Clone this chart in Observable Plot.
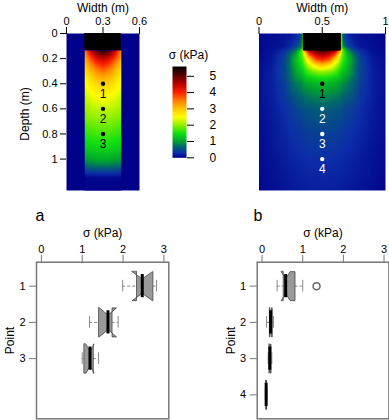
<!DOCTYPE html>
<html><head><meta charset="utf-8">
<script src="https://cdn.jsdelivr.net/npm/d3@7"></script>
<script src="https://cdn.jsdelivr.net/npm/@observablehq/plot@0.6"></script>
<style>
body{margin:0;background:#fff;}
#fig{position:relative;width:389px;height:420px;overflow:hidden;font-family:"Liberation Sans",Arial,sans-serif;}
</style></head><body><div id="fig"></div>
<script>
// ---------- colour scale (σ, kPa) ----------
const sigmaStops  = [0, 0.3, 0.7, 1.0, 1.5, 2.0, 2.5, 3.0, 3.5, 4.0, 4.6, 5.1, 5.6];
const sigmaColors = ["#000088", "#0c2ea8", "#006a68", "#00a030", "#10e010", "#90f000", "#ffff00", "#ffc400", "#ff8000", "#ff2000", "#b00000", "#500000", "#000000"];
const legendTicks = [0, 1, 2, 3, 4, 5];

// ---------- panel 1: narrow column (width 0–0.6 m) ----------
const p1Depth  = [0.135, 0.16, 0.2, 0.25, 0.3, 0.35, 0.4, 0.5, 0.6, 0.7, 0.8, 0.9, 1.0, 1.05, 1.1, 1.15, 1.25];
const p1Edge   = [3.4, 3.3, 3.1, 2.9, 2.7, 2.55, 2.45, 2.25, 2.05, 1.85, 1.6, 1.35, 1.0, 0.7, 0.35, 0.05, 0];
const p1Mid    = [4.6, 4.2, 3.8, 3.4, 3.1, 2.85, 2.7, 2.4, 2.15, 1.9, 1.65, 1.4, 1.05, 0.75, 0.4, 0.05, 0];
const p1Inner  = [5.2, 4.8, 4.3, 3.8, 3.4, 3.1, 2.85, 2.5, 2.2, 1.95, 1.7, 1.45, 1.1, 0.8, 0.4, 0.05, 0];
const p1Center = [5.4, 5.0, 4.5, 4.0, 3.6, 3.2, 2.9, 2.55, 2.2, 1.95, 1.7, 1.45, 1.1, 0.8, 0.4, 0.05, 0];
const p1Column = [0.15, 0.45];
const p1Footing = [0.15, 0.45, 0.135];
const p1PointDepth = [0.4, 0.6, 0.8];
const p1PointLabel = ["1", "2", "3"];
const p1PointX = 0.3;

// ---------- panel 2: wide soil (width 0–1 m) ----------
const p2X = [0, 0.1, 0.2, 0.25, 0.3, 0.34, 0.36, 0.4, 0.45, 0.5];
const p2Depth = [0, 0.1, 0.14, 0.17, 0.2, 0.25, 0.3, 0.35, 0.4, 0.5, 0.6, 0.8, 1.0, 1.25];
const p2Rows = [
  [0.05, 0.08, 0.12, 0.15, 0.25, 0.45, 5.6, 5.6, 5.6, 5.6],
  [0.05, 0.1, 0.15, 0.25, 0.45, 0.85, 5.6, 5.6, 5.6, 5.6],
  [0.05, 0.12, 0.3, 0.55, 0.95, 1.8, 3.2, 4.6, 5.0, 5.2],
  [0.06, 0.14, 0.38, 0.72, 1.2, 1.8, 2.4, 3.8, 4.4, 4.6],
  [0.07, 0.16, 0.42, 0.8, 1.3, 1.7, 2.1, 3.0, 3.9, 4.2],
  [0.08, 0.18, 0.45, 0.8, 1.2, 1.5, 1.8, 2.3, 2.8, 3.1],
  [0.09, 0.2, 0.45, 0.75, 1.1, 1.3, 1.5, 1.8, 2.0, 2.1],
  [0.1, 0.2, 0.45, 0.7, 0.95, 1.1, 1.25, 1.4, 1.5, 1.55],
  [0.1, 0.2, 0.4, 0.6, 0.8, 0.9, 1.0, 1.1, 1.15, 1.2],
  [0.1, 0.2, 0.35, 0.5, 0.6, 0.68, 0.75, 0.8, 0.85, 0.85],
  [0.1, 0.18, 0.3, 0.38, 0.45, 0.5, 0.55, 0.58, 0.6, 0.62],
  [0.08, 0.15, 0.24, 0.29, 0.33, 0.36, 0.38, 0.4, 0.41, 0.42],
  [0.07, 0.12, 0.18, 0.22, 0.25, 0.27, 0.28, 0.29, 0.3, 0.3],
  [0.05, 0.09, 0.13, 0.15, 0.17, 0.18, 0.19, 0.2, 0.2, 0.2]
];
const p2Footing = [0.35, 0.65, 0.14];
const p2PointDepth = [0.4, 0.6, 0.8, 1.0];
const p2PointLabel = ["1", "2", "3", "4"];
const p2PointColor = ["black", "white", "white", "white"];
const p2PointX = 0.5;

// ---------- box plots ----------
const aPoints  = [1, 2, 3];
const aLow     = [1.99, 1.18, 1.00];
const aQ1      = [2.33, 1.40, 1.04];
const aMedian  = [2.47, 1.63, 1.19];
const aQ3      = [2.73, 1.73, 1.27];
const aHigh    = [2.82, 1.88, 1.40];
const aNotchLo = [2.22, 1.42, 1.09];
const aNotchHi = [2.72, 1.84, 1.29];

const bPoints  = [1, 2, 3, 4];
const bLow     = [0.37, 0.11, 0.15, 0.08];
const bQ1      = [0.52, 0.18, 0.17, 0.09];
const bMedian  = [0.58, 0.21, 0.19, 0.10];
const bQ3      = [0.81, 0.25, 0.22, 0.11];
const bHigh    = [1.00, 0.28, 0.24, 0.12];
const bNotchLo = [0.47, 0.19, 0.175, 0.095];
const bNotchHi = [0.69, 0.23, 0.205, 0.105];
const bOutPoint = [1];
const bOutValue = [1.34];

const sigmaTicks = [0, 1, 2, 3];

// ================= build =================
const fig = document.getElementById("fig");
const FONT = '"Liberation Sans", Arial, sans-serif';
const baseStyle = {fontFamily: FONT, fontSize: "11px", background: "transparent", overflow: "visible", color: "black"};
const colorOpts = {type: "linear", domain: sigmaStops, range: sigmaColors, clamp: true};
function place(node, left, top) {
  node.style.position = "absolute";
  node.style.left = left + "px";
  node.style.top = top + "px";
  fig.appendChild(node);
}
const fmt = d => String(d);
const label = (t, o) => Plot.text([t], {text: d => d, lineAnchor: "middle", textAnchor: "middle", fontSize: 12, ...o});

// panel 1 samples
const p1Cols = [
  {x: p1Column[0], v: p1Edge}, {x: 0.2, v: p1Mid}, {x: 0.25, v: p1Inner}, {x: 0.3, v: p1Center},
  {x: 0.35, v: p1Inner}, {x: 0.4, v: p1Mid}, {x: p1Column[1], v: p1Edge}
];
const p1Samples = [];
p1Depth.forEach((d, i) => p1Cols.forEach(c => p1Samples.push({x: c.x, y: d, v: c.v[i]})));
const p1Pts = p1PointDepth.map((d, i) => ({x: p1PointX, y: d, label: p1PointLabel[i]}));

const p1 = Plot.plot({
  width: 150, height: 195, marginLeft: 66, marginRight: 11, marginTop: 33, marginBottom: 5,
  style: baseStyle,
  x: {domain: [0, 0.6]},
  y: {domain: [0, 1.25], reverse: true},
  color: colorOpts,
  marks: [
    Plot.frame({fill: sigmaColors[0], stroke: null}),
    Plot.raster(p1Samples, {x: "x", y: "y", fill: "v", interpolate: "barycentric",
      x1: p1Column[0], x2: p1Column[1], y1: p1Depth[0], y2: p1Depth[p1Depth.length - 1]}),
    Plot.rect([p1Footing], {x1: d => d[0], x2: d => d[1], y1: 0, y2: d => d[2], fill: "black"}),
    Plot.dot(p1Pts, {x: "x", y: "y", r: 2.2, fill: "black", stroke: null}),
    Plot.text(p1Pts, {x: "x", y: "y", text: "label", dy: 10, fill: "black", fontSize: 12}),
    Plot.axisX({anchor: "top", ticks: [0, 0.3, 0.6], tickFormat: fmt, tickSize: 7, tickPadding: 2, label: null, fontSize: 11}),
    Plot.axisY({anchor: "left", ticks: [0, 0.2, 0.4, 0.6, 0.8, 1], tickFormat: fmt, tickSize: 6, tickPadding: 3, label: null, fontSize: 11}),
    label("Width (m)", {frameAnchor: "top", dy: -25}),
    label("Depth (m)", {frameAnchor: "left", dx: -41, dy: 2, rotate: -90})
  ]
});
place(p1, 0, 0);

// colour bar
const bar = Plot.plot({
  width: 90, height: 115, marginLeft: 22, marginRight: 54, marginTop: 16, marginBottom: 7.7,
  style: baseStyle,
  x: {domain: [0, 1], axis: null},
  y: {domain: [0, sigmaStops[sigmaStops.length - 1]]},
  color: colorOpts,
  marks: [
    Plot.raster({fill: (x, y) => y, x1: 0, x2: 1, y1: 0, y2: sigmaStops[sigmaStops.length - 1]}),
    Plot.axisY({anchor: "right", ticks: legendTicks, tickFormat: fmt, tickSize: 7, tickPadding: 16, label: null, fontSize: 12}),
    label("σ (kPa)", {frameAnchor: "top", dx: 9, dy: -11})
  ]
});
place(bar, 150, 50);

// panel 2 samples
const p2Samples = [];
p2Depth.forEach((d, i) => {
  p2X.forEach((x, j) => {
    p2Samples.push({x, y: d, v: p2Rows[i][j]});
    if (x !== 0.5) p2Samples.push({x: 1 - x, y: d, v: p2Rows[i][j]});
  });
});
const p2Pts = p2PointDepth.map((d, i) => ({x: p2PointX, y: d, label: p2PointLabel[i], c: p2PointColor[i]}));
const p2 = Plot.plot({
  width: 149, height: 195, marginLeft: 18.5, marginRight: 4, marginTop: 33, marginBottom: 5,
  style: baseStyle,
  x: {domain: [0, 1]},
  y: {domain: [0, 1.25], reverse: true, axis: null},
  color: colorOpts,
  marks: [
    Plot.raster(p2Samples, {x: "x", y: "y", fill: "v", interpolate: "barycentric", x1: 0, x2: 1, y1: 0, y2: 1.25}),
    Plot.rect([p2Footing], {x1: d => d[0], x2: d => d[1], y1: 0, y2: d => d[2], fill: "black"}),
    Plot.dot(p2Pts, {x: "x", y: "y", r: 2.2, fill: "c", stroke: null}),
    Plot.text(p2Pts, {x: "x", y: "y", text: "label", dy: 10, fill: "c", fontSize: 12}),
    Plot.axisX({anchor: "top", ticks: [0, 0.5, 1], tickFormat: fmt, tickSize: 7, tickPadding: 2, label: null, fontSize: 11}),
    label("Width (m)", {frameAnchor: "top", dy: -25})
  ]
});
place(p2, 240, 0);

// box plot panels
function boxPanel(letter, pts, lo, q1, med, q3, hi, nlo, nhi, outP, outV, width, mLeft, mRight, letterDx) {
  const boxes = pts.map((p, i) => ({p, lo: lo[i], q1: q1[i], med: med[i], q3: q3[i], hi: hi[i], nlo: nlo[i], nhi: nhi[i]}));
  const w = 0.4;
  const verts = [];
  boxes.forEach(b => {
    [[b.q1, -w], [b.q1, w], [b.nlo, w], [b.med, w / 2], [b.nhi, w], [b.q3, w], [b.q3, -w], [b.nhi, -w], [b.med, -w / 2], [b.nlo, -w]]
      .forEach(([x, o]) => verts.push({id: b.p, x, y: b.p + o}));
  });
  const outs = outP.map((p, i) => ({p, v: outV[i]}));
  return Plot.plot({
    width, height: 220, marginLeft: mLeft, marginRight: mRight, marginTop: 61.7, marginBottom: 1.7,
    style: baseStyle,
    x: {domain: [-0.12, 3.12]},
    y: {domain: [0.34, 4.66], reverse: true},
    marks: [
      Plot.ruleY(boxes, {y: "p", x1: "lo", x2: "q1", stroke: "#888", strokeDasharray: "3,2"}),
      Plot.ruleY(boxes, {y: "p", x1: "q3", x2: "hi", stroke: "#888", strokeDasharray: "3,2"}),
      Plot.ruleX(boxes, {x: "lo", y1: d => d.p - 0.16, y2: d => d.p + 0.16, stroke: "#888"}),
      Plot.ruleX(boxes, {x: "hi", y1: d => d.p - 0.16, y2: d => d.p + 0.16, stroke: "#888"}),
      Plot.line(verts, {x: "x", y: "y", z: "id", curve: "linear-closed", fill: "#9a9a9a", stroke: "#444", strokeWidth: 0.8}),
      Plot.ruleX(boxes, {x: "med", y1: d => d.p - 0.32, y2: d => d.p + 0.32, stroke: "black", strokeWidth: 3}),
      Plot.dot(outs, {x: "v", y: "p", r: 3.5, stroke: "#666", fill: "none"}),
      Plot.frame({stroke: "#777", strokeWidth: 1.5}),
      Plot.axisX({anchor: "top", ticks: sigmaTicks, tickFormat: fmt, tickSize: 8, tickPadding: 1, stroke: "#777", label: null, fontSize: 11}),
      Plot.axisY({anchor: "left", ticks: pts, tickFormat: fmt, tickSize: 7, tickPadding: 4, stroke: "#777", label: null, fontSize: 11}),
      label("σ (kPa)", {frameAnchor: "top", dy: -29}),
      label("Point", {frameAnchor: "left", dx: -26, rotate: -90}),
      label(letter, {frameAnchor: "top-left", dx: letterDx, dy: -46, textAnchor: "start", fontSize: 16})
    ]
  });
}
place(boxPanel("a", aPoints, aLow, aQ1, aMedian, aQ3, aHigh, aNotchLo, aNotchHi, [], [], 185, 36, 16.7, -1), 0, 200);
place(boxPanel("b", bPoints, bLow, bQ1, bMedian, bQ3, bHigh, bNotchLo, bNotchHi, bOutPoint, bOutValue, 169, 36.7, 0.6, -3.7), 220, 200);
</script></body></html>
